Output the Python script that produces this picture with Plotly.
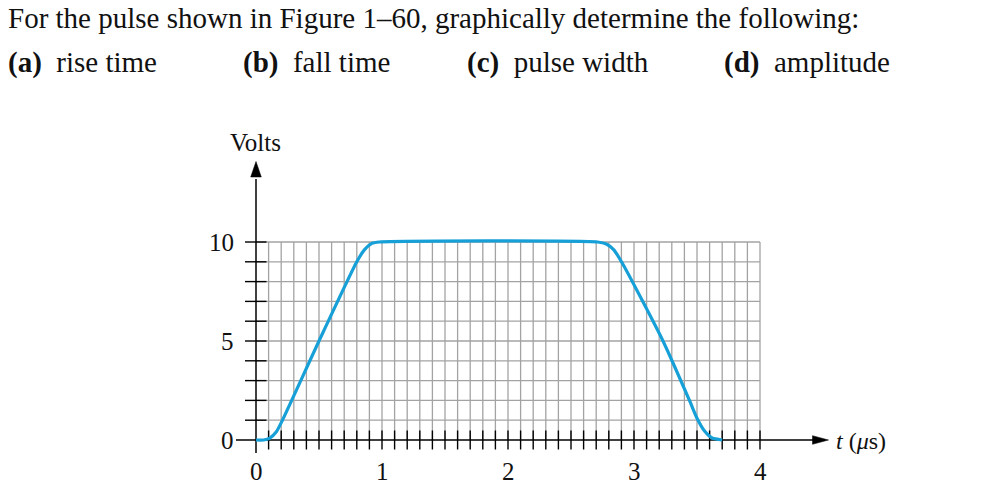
import plotly.graph_objects as go

# ---- data ----
t_us = [0.00, 0.06, 0.11, 0.16, 0.21, 0.50, 0.80, 0.86, 0.92, 0.98,
        2.71, 2.78, 2.84, 2.91, 3.23, 3.44, 3.50, 3.56, 3.62, 3.70]
volts = [0.0, 0.0, 0.1, 0.4, 1.0, 5.0, 9.0, 9.6, 9.93, 10.0,
         10.0, 9.9, 9.6, 8.9, 5.0, 2.0, 1.1, 0.45, 0.1, 0.0]
x_tick_vals = [0, 1, 2, 3, 4]
y_tick_vals = [0, 5, 10]
x_minor = [round(0.1 * i, 1) for i in range(1, 41)]
y_minor = list(range(1, 11))

W, H = 986, 502
PX_X = 126.0   # pixels per microsecond
PX_Y = 19.8    # pixels per volt
X0, Y0 = 256.0, 440.0

FONT = "Liberation Serif, Times New Roman, serif"
GRID = "#a3a3a3"
BLUE = "#17a0d7"

fig = go.Figure()
fig.add_trace(go.Scatter(x=t_us, y=volts, mode="lines",
                         line=dict(color=BLUE, width=3.2, shape="spline", smoothing=0.6),
                         hoverinfo="skip", showlegend=False))

shapes = []
# grid
for xv in x_minor:
    shapes.append(dict(type="line", x0=xv, x1=xv, y0=0, y1=10, layer="below",
                       line=dict(color=GRID, width=1.3)))
for yv in y_minor:
    shapes.append(dict(type="line", x0=0, x1=4, y0=yv, y1=yv, layer="below",
                       line=dict(color=GRID, width=1.3)))
# ticks
for xv in x_minor:
    shapes.append(dict(type="line", x0=xv, x1=xv, y0=-9.5 / PX_Y, y1=9.5 / PX_Y, layer="below",
                       line=dict(color="black", width=1.4)))
for yv in y_minor:
    shapes.append(dict(type="line", x0=-11 / PX_X, x1=10.5 / PX_X, y0=yv, y1=yv, layer="below",
                       line=dict(color="black", width=1.4)))
# axes
x_tip = (828.5 - X0) / PX_X
x_base = (812.5 - X0) / PX_X
y_tip = (Y0 - 161.5) / PX_Y
y_base = (Y0 - 177.0) / PX_Y
shapes.append(dict(type="line", x0=(236 - X0) / PX_X, x1=x_base + 0.02, y0=0, y1=0, layer="below",
                   line=dict(color="black", width=1.5)))
shapes.append(dict(type="line", x0=0, x1=0, y0=-(453 - Y0) / PX_Y, y1=y_base - 0.1, layer="below",
                   line=dict(color="black", width=1.5)))
hw = 4.3 / PX_Y
shapes.append(dict(type="path", path=f"M {x_base},{hw} L {x_tip},0 L {x_base},{-hw} Z",
                   fillcolor="black", line=dict(color="black", width=0.5), layer="below"))
hwx = 5.3 / PX_X
shapes.append(dict(type="path", path=f"M {-hwx},{y_base} L 0,{y_tip} L {hwx},{y_base} Z",
                   fillcolor="black", line=dict(color="black", width=0.5), layer="below"))

ann = []
def ptext(px, py, text, size=25, xanchor="left", yanchor="middle"):
    ann.append(dict(xref="paper", yref="paper", x=px / W, y=1 - py / H, text=text,
                    showarrow=False, xanchor=xanchor, yanchor=yanchor,
                    font=dict(family=FONT, size=size, color="#111")))

ptext(6, 18, "For the pulse shown in Figure 1–60, graphically determine the following:", size=29)
ptext(6, 62, "<b>(a)</b>  rise time", size=29)
ptext(241, 62, "<b>(b)</b>  fall time", size=29)
ptext(465, 62, "<b>(c)</b>  pulse width", size=29)
ptext(722, 62, "<b>(d)</b>  amplitude", size=29)
ptext(255, 143, "Volts", size=25, xanchor="center")
ptext(834, 441, "<i>t</i> (<i>μ</i>s)", size=24)

for xv in x_tick_vals:
    ann.append(dict(x=xv, y=-(471 - Y0) / PX_Y, text=str(xv), showarrow=False,
                    xanchor="center", yanchor="middle",
                    font=dict(family=FONT, size=25, color="#111")))
for yv in y_tick_vals:
    ann.append(dict(x=(236 - X0) / PX_X, y=yv, text=str(yv), showarrow=False,
                    xanchor="right", yanchor="middle",
                    font=dict(family=FONT, size=25, color="#111")))

fig.update_layout(
    width=W, height=H, autosize=False,
    margin=dict(l=0, r=0, t=0, b=0),
    paper_bgcolor="white", plot_bgcolor="white",
    xaxis=dict(range=[-X0 / PX_X, (W - X0) / PX_X], visible=False, fixedrange=True),
    yaxis=dict(range=[-(H - Y0) / PX_Y, Y0 / PX_Y], visible=False, fixedrange=True),
    shapes=shapes, annotations=ann, showlegend=False,
)

fig.write_html("out.html", config={"displayModeBar": False},
               post_script="document.body.style.margin='0';document.body.style.overflow='hidden';")
